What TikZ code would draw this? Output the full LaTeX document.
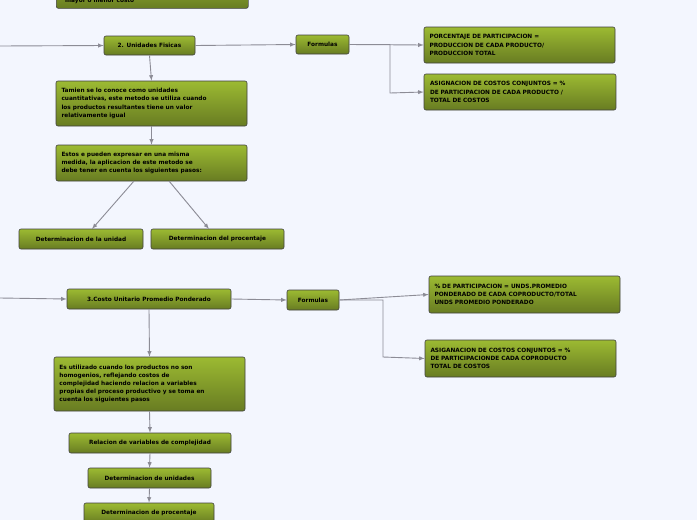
\documentclass[tikz,border=0pt]{standalone}
\usepackage{fontspec}
\setmainfont{DejaVu Sans}
\definecolor{bgc}{RGB}{243,246,254}
\definecolor{gtop}{RGB}{156,186,50}
\definecolor{gbot}{RGB}{104,124,34}
\definecolor{lnc}{RGB}{140,140,150}
\begin{document}
\begin{tikzpicture}[x=1pt,y=-1pt,
  gbox/.style={draw=black!75,line width=0.6pt,rounded corners=2pt,top color=gtop,bottom color=gbot,font=\fontsize{5.8}{8.2}\selectfont\bfseries,inner sep=0pt,align=center,text=black},
  tbox/.style={gbox,align=left,text width=#1},
  con/.style={draw=lnc,line width=0.9pt,-latex}]
\fill[bgc] (0,0) rectangle (697,520);
\useasboundingbox (0,0) rectangle (697,520);
\clip (0,0) rectangle (697,520);
\node[gbox,minimum width=192pt,minimum height=36pt,anchor=north west] (top) at (56,-28) {};
\node[font=\fontsize{5.8}{8.2}\selectfont\bfseries,anchor=west,inner sep=0pt] (toptext) at (65,1) {mayor o menor costo};
\node[gbox,minimum width=91pt,minimum height=19pt] (uf) at (149.5,45.5) {2. Unidades Fisicas};
\node[gbox,minimum width=53pt,minimum height=19pt] (f1) at (322.5,44.5) {Formulas};
\node[tbox=180pt,minimum width=191pt,minimum height=36pt] (p1) at (519.5,45) {PORCENTAJE DE PARTICIPACION =\\PRODUCCION DE CADA PRODUCTO/\\PRODUCCION TOTAL};
\node[tbox=180pt,minimum width=192pt,minimum height=36pt] (p2) at (520,92) {ASIGNACION DE COSTOS CONJUNTOS = \%\\DE PARTICIPACION DE CADA PRODUCTO /\\TOTAL DE COSTOS};
\node[tbox=180pt,minimum width=191pt,minimum height=45pt] (t1) at (151.5,103.5) {Tamien se lo conoce como unidades\\cuantitativas, este metodo se utiliza cuando\\los productos resultantes tiene un valor\\relativamente igual};
\node[tbox=180pt,minimum width=191pt,minimum height=36pt] (t2) at (151.5,163) {Estos e pueden expresar en una misma\\medida, la aplicacion de este metodo se\\debe tener en cuenta los siguientes pasos:};
\node[gbox,minimum width=124pt,minimum height=20pt] (d1) at (81,239) {Determinacion de la unidad};
\node[gbox,minimum width=133pt,minimum height=20pt] (d2) at (217.5,239) {Determinacion del procentaje};
\node[gbox,minimum width=164pt,minimum height=20pt] (cu) at (149,299) {3.Costo Unitario Promedio Ponderado};
\node[gbox,minimum width=52pt,minimum height=20pt] (f2) at (313,300) {Formulas};
\node[tbox=180pt,minimum width=191pt,minimum height=37pt] (q1) at (524.5,294.5) {\% DE PARTICIPACION = UNDS.PROMEDIO\\PONDERADO DE CADA COPRODUCTO/TOTAL\\UNDS PROMEDIO PONDERADO};
\node[tbox=180pt,minimum width=191pt,minimum height=37pt] (q2) at (520.5,358.5) {ASIGANACION DE COSTOS CONJUNTOS = \%\\DE PARTICIPACIONDE CADA COPRODUCTO\\*TOTAL DE COSTOS};
\node[tbox=180pt,minimum width=191pt,minimum height=54pt] (es) at (149.5,384) {Es utilizado cuando los productos no son\\homogenios, reflejando costos de\\complejidad haciendo relacion a variables\\propias del proceso productivo y se toma en\\cuenta los siguientes pasos};
\node[gbox,minimum width=162pt,minimum height=20pt] (r1) at (150,443) {Relacion de variables de complejidad};
\node[gbox,minimum width=123pt,minimum height=20pt] (r2) at (149.5,478) {Determinacion de unidades};
\node[gbox,minimum width=130pt,minimum height=20pt] (r3) at (149,513) {Determinacion de procentaje};
\coordinate (l1) at (0,46);
\coordinate (l2) at (0,298);
\coordinate (b1) at (390,93);
\coordinate (b2) at (383,357);
\coordinate (s1) at (134,181);
\coordinate (s2) at (169,181);
\coordinate (e1) at (92,229);
\coordinate (e2) at (209,229);
\draw[con] (l1) -- (uf.west);
\draw[con] (uf.east) -- (f1.west);
\draw[con] (f1.east) -- (p1.west);
\draw[con] (f1.east) -| (b1) -- (p2.west);
\draw[con] (uf.south) -- (t1.north);
\draw[con] (t1.south) -- (t2.north);
\draw[con] (s1) -- (e1);
\draw[con] (s2) -- (e2);
\draw[con] (l2) -- (cu.west);
\draw[con] (cu.east) -- (f2.west);
\draw[con] (f2.east) -- (q1.west);
\draw[con] (f2.east) -| (b2) -- (q2.west);
\draw[con] (cu.south) -- (es.north);
\draw[con] (es.south) -- (r1.north);
\draw[con] (r1.south) -- (r2.north);
\draw[con] (r2.south) -- (r3.north);
\end{tikzpicture}
\end{document}
